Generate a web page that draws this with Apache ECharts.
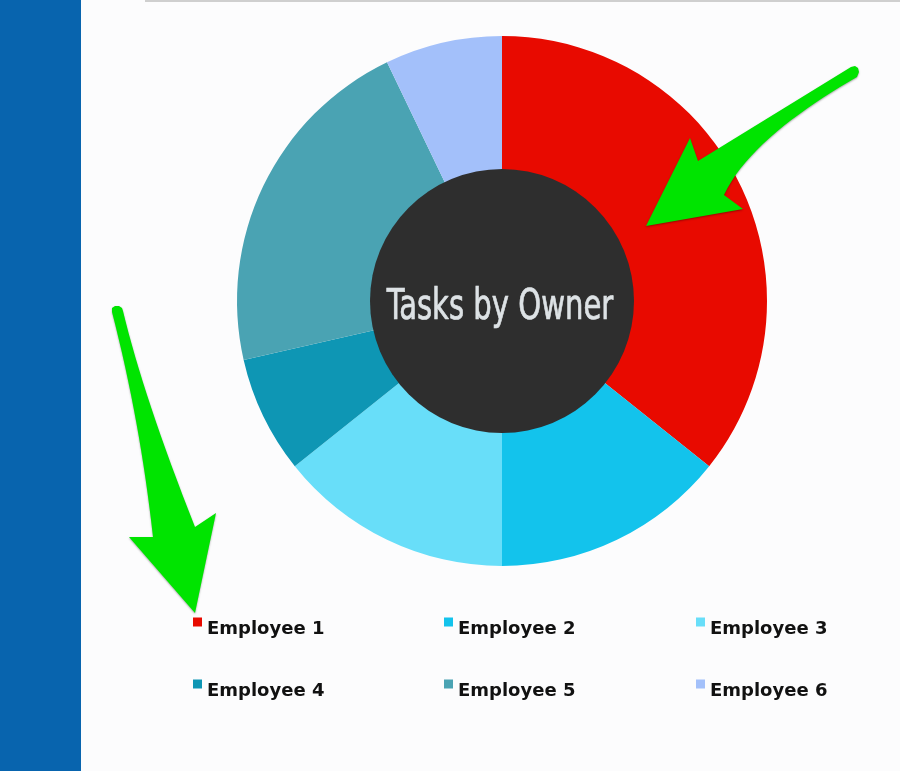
<!DOCTYPE html>
<html><head><meta charset="utf-8">
<script src="https://cdn.jsdelivr.net/npm/echarts@6/dist/echarts.min.js"></script>
<style>html,body{margin:0;padding:0;background:#fcfcfd;}#c{width:900px;height:771px;}</style>
</head><body><div id="c"></div>
<script>
const categories = ['Employee 1','Employee 2','Employee 3','Employee 4','Employee 5','Employee 6'];
const taskCounts = [5, 2, 2, 1, 3, 1];
const sliceColors = ['#e80a00','#13c3ec','#68def9','#0e96b4','#4aa3b3','#a3c0fa'];
const centerTitle = 'Tasks by Owner';

// decoration helpers: sample curves for the annotation arrows
function quad(p0, c, p1, n) {
  const pts = [];
  for (let i = 1; i <= n; i++) {
    const t = i / n, u = 1 - t;
    pts.push([u*u*p0[0] + 2*u*t*c[0] + t*t*p1[0], u*u*p0[1] + 2*u*t*c[1] + t*t*p1[1]]);
  }
  return pts;
}
function cubic(p0, c1, c2, p1, n) {
  const pts = [];
  for (let i = 1; i <= n; i++) {
    const t = i / n, u = 1 - t;
    const a = u*u*u, b = 3*u*u*t, c = 3*u*t*t, d = t*t*t;
    pts.push([a*p0[0] + b*c1[0] + c*c2[0] + d*p1[0], a*p0[1] + b*c1[1] + c*c2[1] + d*p1[1]]);
  }
  return pts;
}
const arrowRight = [[646,226],[690,138],[698,161],[851,67],[855,66],[858,68],[859,72],[857,77]]
  .concat(cubic([857,77],[800,110],[745,150],[724,195],20)).concat([[743,209]]);
const arrowLeft = [[195,613],[129,537],[153,537]]
  .concat(quad([153,537],[140,420],[112,312],16))
  .concat([[112,308],[115,306],[119,306],[122,308],[123,311]])
  .concat(quad([123,311],[144,398],[195,527],16)).concat([[216,513]]);

const chart = echarts.init(document.getElementById('c'));
const legendBase = {
  orient: 'vertical', top: 606, padding: 0, itemGap: 30,
  itemWidth: 9, itemHeight: 9, icon: 'rect',
  selectedMode: false,
  formatter: name => '{t|' + name + '}',
  textStyle: {
    rich: {t: {fontFamily: 'DejaVu Sans', fontWeight: 'bold', fontSize: 18, color: '#111', lineHeight: 20, padding: [14,0,0,0]}}
  }
};
const arrowStyle = () => ({fill: '#00e400', shadowColor: 'rgba(0,0,0,0.35)', shadowBlur: 2, shadowOffsetY: 1});
chart.setOption({
  backgroundColor: '#fcfcfd',
  animation: false,
  legend: [
    Object.assign({}, legendBase, {left: 193, data: [categories[0], categories[3]]}),
    Object.assign({}, legendBase, {left: 444, data: [categories[1], categories[4]]}),
    Object.assign({}, legendBase, {left: 696, data: [categories[2], categories[5]]})
  ],
  graphic: [
    {type: 'rect', shape: {x: 0, y: 0, width: 81, height: 771}, style: {fill: '#0864ae'}},
    {type: 'rect', shape: {x: 145, y: 0, width: 755, height: 2}, style: {fill: '#cfcfcf'}},
    {type: 'text', z: 50, x: 500, y: 308, scaleX: 0.77, originX: 0, style: {
      text: centerTitle, fill: '#dde2e5', stroke: '#dde2e5', lineWidth: 0.7,
      font: '42px "DejaVu Sans Condensed", sans-serif',
      textAlign: 'center', textVerticalAlign: 'middle'}},
    {type: 'polygon', z: 100, shape: {points: arrowRight}, style: arrowStyle()},
    {type: 'polygon', z: 100, shape: {points: arrowLeft}, style: arrowStyle()}
  ],
  series: [
    {
      type: 'pie', center: [502, 301], radius: [120, 265], startAngle: 90, clockwise: true,
      label: {show: false}, labelLine: {show: false}, silent: true,
      itemStyle: {borderWidth: 0},
      data: categories.map((n, i) => ({name: n, value: taskCounts[i], itemStyle: {color: sliceColors[i]}}))
    },
    {
      type: 'pie', center: [502, 301], radius: [0, 132], silent: true, z: 5,
      label: {show: false}, labelLine: {show: false},
      itemStyle: {color: '#2e2e2e', borderWidth: 0},
      data: [{name: 'center', value: 1}]
    }
  ]
});
</script></body></html>
